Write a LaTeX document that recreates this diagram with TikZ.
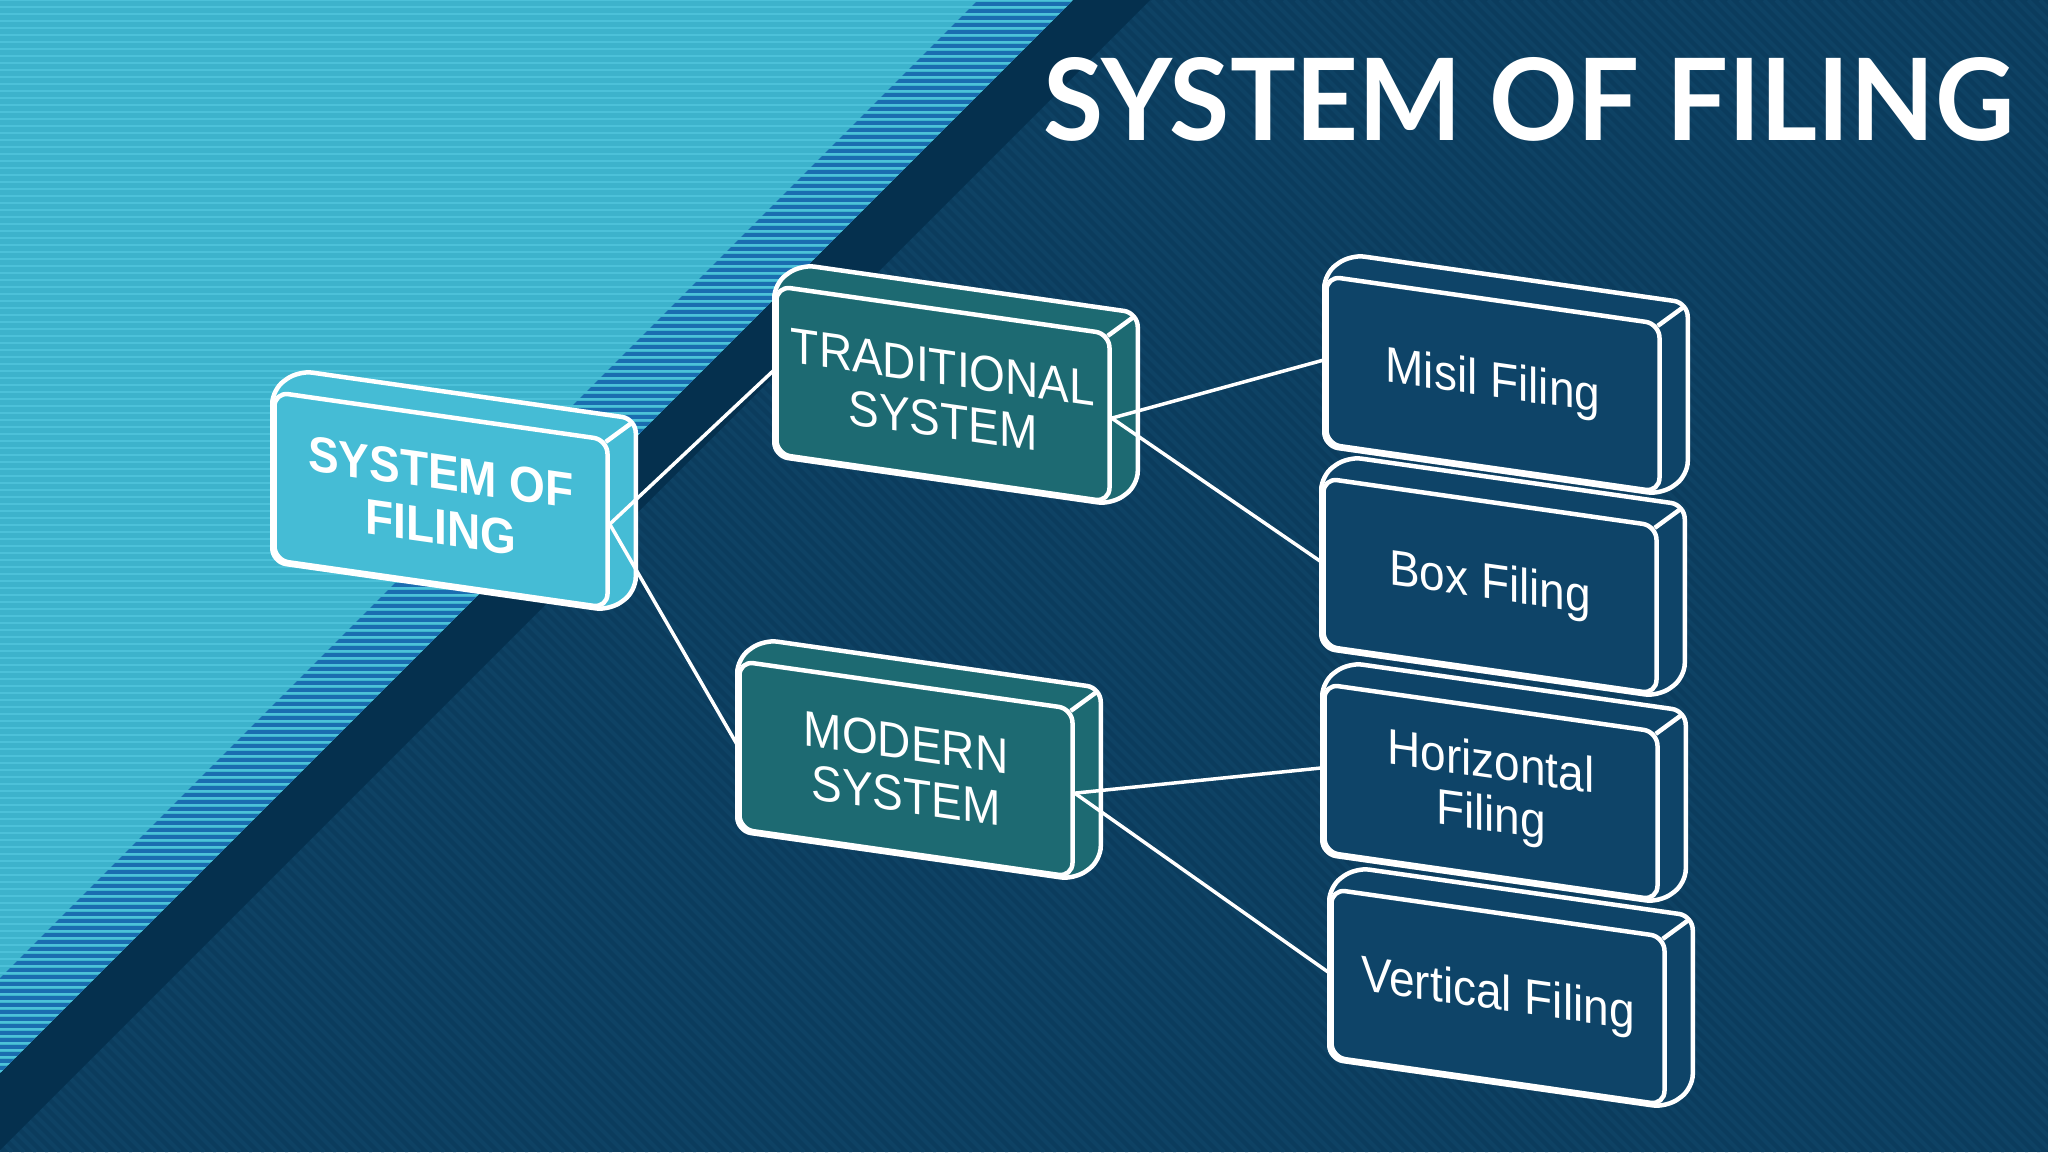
\documentclass[tikz,border=0pt]{standalone}
\usepackage{graphicx}
\usepackage{fontspec}
\setmainfont{Liberation Sans}[FakeStretch=0.92]
\newfontfamily\titlefont{Lato}

\definecolor{skyblue}{HTML}{3DB3CC}
\definecolor{skyline}{HTML}{4CC1D9}
\definecolor{bandblue}{HTML}{1A6DB0}
\definecolor{deepnavy}{HTML}{05304E}
\definecolor{navy}{HTML}{0B3C5D}
\definecolor{navyline}{HTML}{0E4264}
\definecolor{rootfill}{HTML}{45BCD5}
\definecolor{midfill}{HTML}{1D6A72}
\definecolor{leaffill}{HTML}{0E4468}

\pgfdeclarelayer{back}
\pgfdeclarelayer{depth}
\pgfsetlayers{back,depth,main}

\newcommand\boxdepth[2]{%
  \begin{pgfonlayer}{depth}
  \draw[white, line width=4.5pt, fill=#2, rounded corners=14pt]
    (#1.north west) -- ++(26,-19) -- ([shift={(26,-19)}]#1.north east)
    -- ([shift={(26,-19)}]#1.south east) -- (#1.south east) -- (#1.south west) -- cycle;
  \draw[white, line width=4.5pt] ([shift={(-4,4)}]#1.north east) -- ++(26,-19);
  \end{pgfonlayer}}

\tikzset{
  front/.style={draw=white, line width=4.5pt, rounded corners=14pt,
    minimum width=333pt, minimum height=168pt, inner sep=0pt,
    yslant=-0.143, text=white, align=center,
    font=\fontsize{50}{53}\selectfont},
  link/.style={draw=white, line width=3.5pt}
}

\begin{document}
\begin{tikzpicture}[x=1pt,y=-1pt]
\useasboundingbox (0,0) rectangle (2048,1152);

\begin{pgfonlayer}{back}
\fill[navy] (0,0) rectangle (2048,1152);
\begin{scope}
\clip (1150,0) -- (2048,0) -- (2048,1152) -- (0,1152) -- (0,1150) -- cycle;
\foreach \c in {-1152,-1140,...,2048}
  \draw[navyline, line width=4pt] (\c,0) -- ++(1152,1152);
\end{scope}
\fill[deepnavy] (1073,0) -- (1150,0) -- (0,1150) -- (0,1073) -- cycle;
\begin{scope}
\clip (0,0) -- (1073,0) -- (0,1073) -- cycle;
\fill[skyblue] (0,0) rectangle (1073,1073);
\foreach \y in {0,7,...,1078} {
  \draw[skyline, line width=2pt] (0,\y) -- (1073,\y);
}
\clip (978,0) -- (1073,0) -- (0,1073) -- (0,978) -- cycle;
\foreach \y in {0,7,...,1078} {
  \draw[bandblue, line width=4pt] (0,\y+3.5) -- (1073,\y+3.5);
}
\end{scope}
\end{pgfonlayer}

\node[anchor=north west, inner sep=0pt, text=white] (title) at (1043,57)
  {\resizebox{971pt}{83pt}{\titlefont\bfseries SYSTEM OF FILING}};

\node[front, fill=rootfill, font=\bfseries\fontsize{50}{55}\selectfont] (root) at (441,500) {SYSTEM OF\\FILING};
\node[front, fill=midfill] (trad) at (943,394) {TRADITIONAL\\SYSTEM};
\node[front, fill=midfill] (modern) at (906,769) {MODERN\\SYSTEM};
\node[front, fill=leaffill] (misil) at (1493,384) {Misil Filing};
\node[front, fill=leaffill] (boxf) at (1490,586) {Box Filing};
\node[front, fill=leaffill] (horiz) at (1491,792) {Horizontal\\Filing};
\node[front, fill=leaffill] (vert) at (1498,997) {Vertical Filing};

\foreach \n/\c in {vert/leaffill, horiz/leaffill, boxf/leaffill, misil/leaffill,
  modern/midfill, trad/midfill, root/rootfill}
  \boxdepth{\n}{\c};

\draw[link] (root.east) edge (trad.west);
\draw[link] (root.east) edge (modern.west);
\draw[link] (trad.east) edge (misil.west);
\draw[link] (trad.east) edge (boxf.west);
\draw[link] (modern.east) edge (horiz.west);
\draw[link] (modern.east) edge (vert.west);
\end{tikzpicture}
\end{document}
